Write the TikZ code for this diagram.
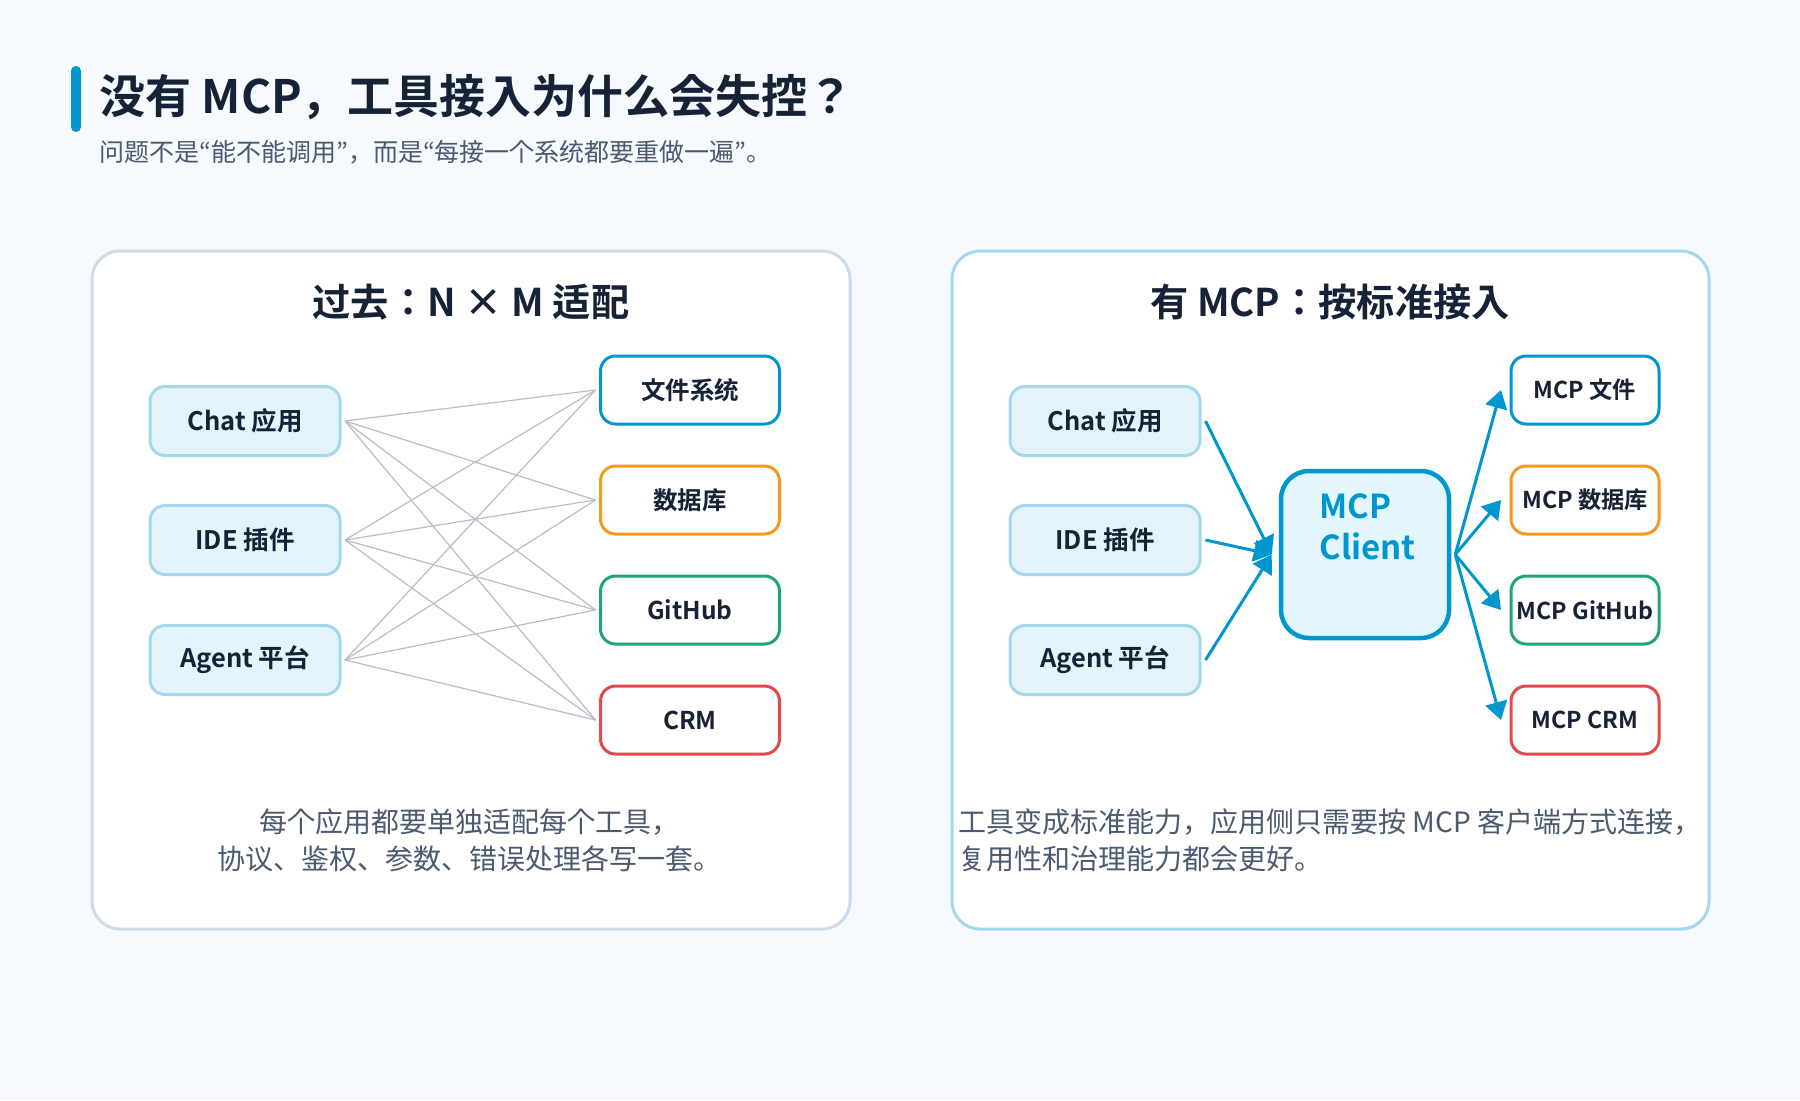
\documentclass[tikz,border=0pt]{standalone}
\usepackage{fontspec}
\setmainfont{Noto Sans CJK JP}[BoldFont={Noto Sans CJK JP Bold}]
\usepackage{xcolor}
\usetikzlibrary{arrows.meta, positioning}

\definecolor{bgpage}{HTML}{F6F9FD}
\definecolor{inkdark}{HTML}{162236}
\definecolor{inkgray}{HTML}{4B5A70}
\definecolor{mcpblue}{HTML}{0096CF}
\definecolor{appfill}{HTML}{E5F4FB}
\definecolor{appline}{HTML}{A6D8EC}
\definecolor{panelgray}{HTML}{CCDCE8}
\definecolor{panelblue}{HTML}{A4D8EC}
\definecolor{toolorange}{HTML}{F39A1E}
\definecolor{toolgreen}{HTML}{1FA572}
\definecolor{toolred}{HTML}{E24A4A}
\definecolor{meshgray}{HTML}{B9BDC9}
\definecolor{clientfill}{HTML}{E4F6FD}

\begin{document}
\begin{tikzpicture}[x=0.5pt, y=-0.5pt,
    panel/.style={line width=1.5pt, rounded corners=14pt, fill=white},
    appbox/.style={draw=appline, fill=appfill, line width=1.5pt, rounded corners=7.5pt,
        minimum width=95pt, minimum height=34.5pt, text=inkdark,
        font=\bfseries\fontsize{12.75}{15}\selectfont},
    toolbox/.style={draw=#1, fill=white, line width=1.5pt, rounded corners=7.5pt,
        minimum width=89.5pt, minimum height=34pt, inner xsep=1pt, text=inkdark,
        font=\bfseries\fontsize{12.25}{15}\selectfont},
    mcptool/.style={toolbox=#1, minimum width=74pt, font=\bfseries\fontsize{11.6}{15}\selectfont},
    mesh/.style={draw=meshgray, line width=0.6pt},
    flow/.style={draw=mcpblue, line width=1.5pt, -{Triangle[length=9pt, width=11pt]}},
    heading/.style={text=inkdark, font=\bfseries\fontsize{19.1}{24}\selectfont},
    note/.style={text=inkgray, font=\fontsize{14}{18.5}\selectfont}
    ]
    \fill[bgpage] (0,0) rectangle (1800,1100);
    \useasboundingbox (0,0) rectangle (1800,1100);

    % title
    \fill[mcpblue, rounded corners=2.5pt] (71,66) rectangle (81,132);
    \node[anchor=west, inner sep=0, text=inkdark, font=\bfseries\fontsize{23}{28}\selectfont] (title) at (99,97) {没有 MCP，工具接入为什么会失控？};
    \node[anchor=west, inner sep=0, text=inkgray, font=\fontsize{12.5}{14}\selectfont] (subtitle) at (99,152) {问题不是“能不能调用”，而是“每接一个系统都要重做一遍”。};

    % left panel: N x M
    \draw[panel, draw=panelgray] (92,251) rectangle (850,929);
    \node[heading] (oldhead) at (471,302) {过去：N × M 适配};

    \node[appbox] (chatL) at (245,421) {Chat 应用};
    \node[appbox] (ideL) at (245,540) {IDE 插件};
    \node[appbox] (agentL) at (245,660) {Agent 平台};

    \node[toolbox=mcpblue] (fileL) at (690,390) {文件系统};
    \node[toolbox=toolorange] (dbL) at (690,500) {数据库};
    \node[toolbox=toolgreen] (gitL) at (690,610) {GitHub};
    \node[toolbox=toolred] (crmL) at (690,720) {CRM};

    \draw[mesh] ([xshift=1.75pt]chatL.east) -- ([xshift=-1.75pt]fileL.west);
    \draw[mesh] ([xshift=1.75pt]chatL.east) -- ([xshift=-1.75pt]dbL.west);
    \draw[mesh] ([xshift=1.75pt]chatL.east) -- ([xshift=-1.75pt]gitL.west);
    \draw[mesh] ([xshift=1.75pt]chatL.east) -- ([xshift=-1.75pt]crmL.west);
    \draw[mesh] ([xshift=1.75pt]ideL.east) -- ([xshift=-1.75pt]fileL.west);
    \draw[mesh] ([xshift=1.75pt]ideL.east) -- ([xshift=-1.75pt]dbL.west);
    \draw[mesh] ([xshift=1.75pt]ideL.east) -- ([xshift=-1.75pt]gitL.west);
    \draw[mesh] ([xshift=1.75pt]ideL.east) -- ([xshift=-1.75pt]crmL.west);
    \draw[mesh] ([xshift=1.75pt]agentL.east) -- ([xshift=-1.75pt]fileL.west);
    \draw[mesh] ([xshift=1.75pt]agentL.east) -- ([xshift=-1.75pt]dbL.west);
    \draw[mesh] ([xshift=1.75pt]agentL.east) -- ([xshift=-1.75pt]gitL.west);
    \draw[mesh] ([xshift=1.75pt]agentL.east) -- ([xshift=-1.75pt]crmL.west);

    \node[note, align=center] (oldnote) at (469,840) {每个应用都要单独适配每个工具，\\协议、鉴权、参数、错误处理各写一套。};

    % right panel: with MCP
    \draw[panel, draw=panelblue] (952,251) rectangle (1709,929);
    \node[heading] (newhead) at (1330,302) {有 MCP：按标准接入};

    \node[appbox] (chatR) at (1105,421) {Chat 应用};
    \node[appbox] (ideR) at (1105,540) {IDE 插件};
    \node[appbox] (agentR) at (1105,660) {Agent 平台};

    \node[draw=mcpblue, fill=clientfill, line width=2.25pt, rounded corners=14pt,
        minimum width=84pt, minimum height=83.5pt] (client) at (1365,554.5) {};
    \node[anchor=west, align=left, inner sep=0, text=mcpblue,
        font=\bfseries\fontsize{16.5}{20.75}\selectfont] (clienttext) at (1319,527) {MCP\\Client};

    \node[mcptool=mcpblue] (fileR) at (1585,390) {MCP 文件};
    \node[mcptool=toolorange] (dbR) at (1585,500) {MCP 数据库};
    \node[mcptool=toolgreen] (gitR) at (1585,610) {MCP GitHub};
    \node[mcptool=toolred] (crmR) at (1585,720) {MCP CRM};

    \draw[flow] ([xshift=2pt]chatR.east) -- ([xshift=-3.5pt]client.west);
    \draw[flow] ([xshift=2pt]ideR.east) -- ([xshift=-3.5pt]client.west);
    \draw[flow] ([xshift=2pt]agentR.east) -- ([xshift=-3.5pt]client.west);

    \draw[flow] ([xshift=2pt]client.east) -- ([xshift=-4.25pt]fileR.west);
    \draw[flow] ([xshift=2pt]client.east) -- ([xshift=-4.25pt]dbR.west);
    \draw[flow] ([xshift=2pt]client.east) -- ([xshift=-4.25pt]gitR.west);
    \draw[flow] ([xshift=2pt]client.east) -- ([xshift=-4.25pt]crmR.west);

    \node[note, align=left] (newnote) at (1330,840) {工具变成标准能力，应用侧只需要按 MCP 客户端方式连接，\\复用性和治理能力都会更好。};
\end{tikzpicture}
\end{document}
